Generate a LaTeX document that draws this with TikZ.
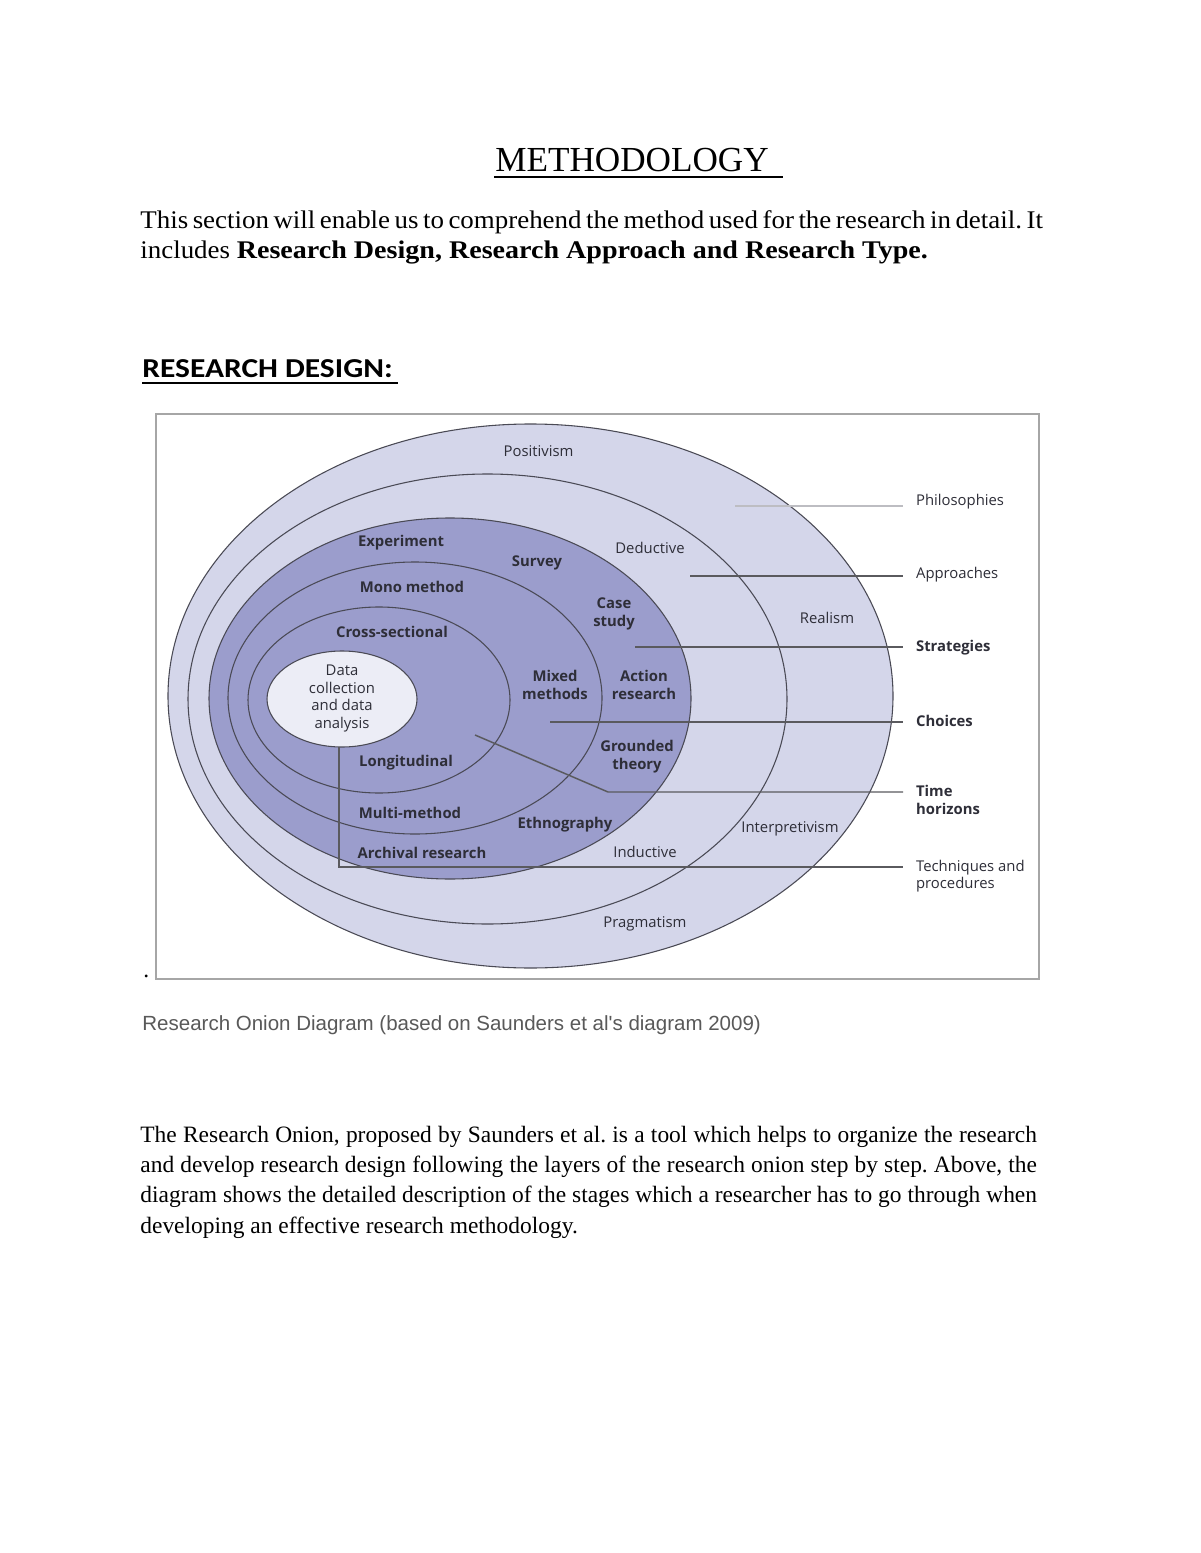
\documentclass[tikz,border=0pt]{standalone}
\usepackage{fontspec}
\setmainfont{Liberation Serif}
\newfontfamily\introfont[FakeStretch=1.06, BoldFeatures={FakeStretch=1.105}]{Liberation Serif}
\newfontfamily\onionfont{Open Sans}
\newfontfamily\capfont{Liberation Sans}
\newfontfamily\headfont[FakeStretch=1.15]{Carlito}
\definecolor{onionlight}{HTML}{D4D6EA}
\definecolor{oniondark}{HTML}{9B9DCC}
\definecolor{onionwhite}{HTML}{ECEDF6}
\definecolor{ringline}{HTML}{4A4A55}
\definecolor{leadgray}{HTML}{5A5A5E}
\definecolor{philgray}{HTML}{BDBDC2}
\definecolor{labeltext}{HTML}{2E2E38}
\definecolor{framegray}{HTML}{A6A6A6}
\definecolor{capgray}{HTML}{595959}
\newcommand\pxs{0.5119pt}
\frenchspacing
\begin{document}
\begin{tikzpicture}[x=0.5119pt, y=-0.5119pt,
        ring/.style={draw=ringline, line width=0.55pt},
        lead/.style={draw=leadgray, line width=0.75pt},
        lbl/.style={font=\onionfont\fontsize{7.6}{9}\selectfont, text=labeltext, align=center, inner sep=0},
        blbl/.style={lbl, font=\onionfont\bfseries\fontsize{7.6}{9}\selectfont},
        side/.style={lbl, anchor=west, align=left, inner xsep=6.5pt},
        bside/.style={blbl, anchor=west, align=left, inner xsep=6.5pt},
        intro/.style={anchor=base west, inner sep=0, font=\introfont\fontsize{13}{15}\selectfont},
        body/.style={anchor=base west, inner sep=0, font=\fontsize{12}{15}\selectfont}]
        \useasboundingbox (0,0) rectangle (1200,1553);
        \fill[white] (0,0) rectangle (1200,1553);

        \node[anchor=base, inner sep=0, font=\fontsize{18}{22}\selectfont] (title) at (632,172) {METHODOLOGY};
        \draw[line width=0.8pt] (494,177) -- (783,177);
        \node[intro] (intro1) at (140,229) {\makebox[462pt][s]{This section will enable us to comprehend the method used for the research in detail. It}};
        \node[intro] (intro2) at (140,259) {includes \textbf{Research Design, Research Approach and Research Type.}};
        \node[anchor=base west, inner sep=0, font=\headfont\bfseries\fontsize{14}{17}\selectfont] (design) at (142,378) {RESEARCH DESIGN:};
        \draw[line width=1pt] (142,383) -- (398,383);

        \draw[draw=framegray, line width=0.75pt] (156,414) rectangle (1039,979);
        \draw[ring, fill=onionlight] (530.5,696) ellipse [x radius=362.5*\pxs, y radius=272*\pxs];
        \draw[ring, fill=onionlight] (487.5,699) ellipse [x radius=299.5*\pxs, y radius=225*\pxs];
        \draw[ring, fill=oniondark] (450,698.5) ellipse [x radius=241*\pxs, y radius=180.5*\pxs];
        \draw[ring] (415,698) ellipse [x radius=187*\pxs, y radius=136*\pxs];
        \draw[ring] (379,700) ellipse [x radius=131*\pxs, y radius=93*\pxs];
        \draw[ring, fill=onionwhite] (342,699) ellipse [x radius=75*\pxs, y radius=48*\pxs];

        \node[side] (philo) at (903,502) {Philosophies};
        \node[side] (appro) at (903,575) {Approaches};
        \node[bside] (strat) at (903,648) {Strategies};
        \node[bside] (choic) at (903,721) {Choices};
        \node[bside] (timeh) at (903,800) {Time\\horizons};
        \node[side] (techp) at (903,876) {Techniques and\\procedures};

        \coordinate (philA) at (735,506);
        \coordinate (approA) at (690,576);
        \coordinate (stratA) at (635,647);
        \coordinate (choicA) at (550,722);
        \coordinate (timeA) at (475,735);
        \coordinate (timeB) at (608,792);
        \coordinate (techA) at (339,747);
        \coordinate (techB) at (339,867);
        \draw[lead, draw=philgray] (philA) -- (philA -| philo.west);
        \draw[lead] (approA) -- (approA -| appro.west);
        \draw[lead] (stratA) -- (stratA -| strat.west);
        \draw[lead] (choicA) -- (choicA -| choic.west);
        \draw[lead] (timeA) -- (timeB) -- (timeB -| timeh.west);
        \draw[lead] (techA) -- (techB) -- (techB -| techp.west);

        \node[lbl] (positivism) at (538.5,451.5) {Positivism};
        \node[lbl] (deductive) at (650,548) {Deductive};
        \node[lbl] (realism) at (827,618) {Realism};
        \node[lbl] (interpret) at (790,829) {Interpretivism};
        \node[lbl] (inductive) at (645,852) {Inductive};
        \node[lbl] (pragmatism) at (645,924) {Pragmatism};
        \node[blbl] (experiment) at (401,543) {Experiment};
        \node[blbl] (survey) at (537,563) {Survey};
        \node[blbl] (mono) at (412,587) {Mono method};
        \node[blbl] (casestudy) at (614,614) {Case\\study};
        \node[blbl] (crosssec) at (392,632) {Cross-sectional};
        \node[lbl] (datacoll) at (342,698.5) {Data\\collection\\and data\\analysis};
        \node[blbl] (mixed) at (555,685) {Mixed\\methods};
        \node[blbl] (action) at (644,685) {Action\\research};
        \node[blbl] (grounded) at (637,756.5) {Grounded\\theory};
        \node[blbl] (longit) at (406,763) {Longitudinal};
        \node[blbl] (multi) at (410,813) {Multi-method};
        \node[blbl] (ethno) at (565,825) {Ethnography};
        \node[blbl] (archival) at (422,853) {Archival research};

        \node[body] (dot) at (143,977) {.};
        \node[anchor=base west, inner sep=0, font=\capfont\fontsize{10.5}{12}\selectfont, text=capgray] (caption) at (142,1030) {Research Onion Diagram (based on Saunders et al's diagram 2009)};

        \node[body] (para1) at (140,1142) {\makebox[459pt][s]{The Research Onion, proposed by Saunders et al. is a tool which helps to organize the research}};
        \node[body] (para2) at (140,1172) {\makebox[459pt][s]{and develop research design following the layers of the research onion step by step. Above, the}};
        \node[body] (para3) at (140,1202.5) {\makebox[459pt][s]{diagram shows the detailed description of the stages which a researcher has to go through when}};
        \node[body] (para4) at (140,1233) {developing an effective research methodology.};
    \end{tikzpicture}
\end{document}
